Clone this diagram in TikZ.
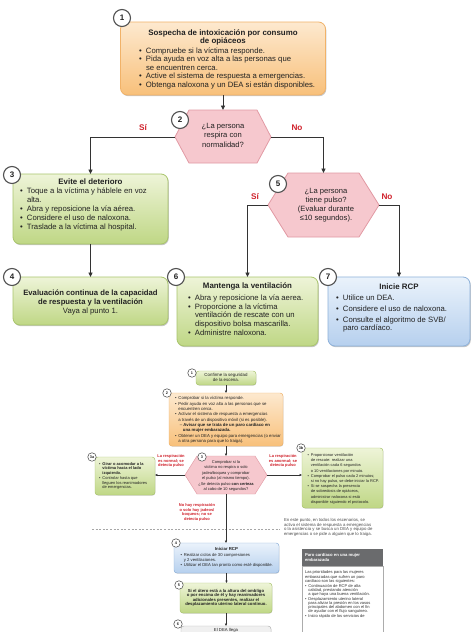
\documentclass[tikz,border=0pt]{standalone}
\usepackage{fontspec}
\setmainfont{Liberation Sans}
\usetikzlibrary{arrows.meta,shadows}
\definecolor{orTop}{HTML}{FDE9CF}
\definecolor{orBot}{HTML}{F8C07A}
\definecolor{orLine}{HTML}{F1B268}
\definecolor{grTop}{HTML}{EEF4D8}
\definecolor{grBot}{HTML}{BFD785}
\definecolor{grLine}{HTML}{A9C56C}
\definecolor{blTop}{HTML}{EAF2FB}
\definecolor{blBot}{HTML}{B6D0EE}
\definecolor{blLine}{HTML}{8DB1DA}
\definecolor{pkFill}{HTML}{F6C8CE}
\definecolor{pkLine}{HTML}{E29AA4}
\definecolor{redLab}{HTML}{D0202A}
\definecolor{conn}{HTML}{333333}
\definecolor{txtc}{HTML}{222222}
\definecolor{hdrGray}{HTML}{6A6B6D}
\definecolor{gyFill}{HTML}{F0F0F0}
\newcommand\fz[2]{\fontsize{#1}{#2}\selectfont}
\newcommand\bu{\makebox[7pt][l]{\textbullet}}
\newcommand\bi{\hspace*{7pt}}
\newcommand\bus{\makebox[3.4pt][l]{\textbullet}}
\newcommand\bis{\hspace*{3.4pt}}
\begin{document}
\begin{tikzpicture}[x=1pt,y=-1pt,
  every node/.style={inner sep=0pt, outer sep=0pt, text=txtc},
  bx/.style={rounded corners=7pt, line width=0.8pt,
    drop shadow={shadow xshift=0.8pt, shadow yshift=-1.2pt, opacity=0.22, fill=black}},
  obox/.style={bx, draw=orLine, top color=orTop, bottom color=orBot},
  gbox/.style={bx, draw=grLine, top color=grTop, bottom color=grBot},
  bbox/.style={bx, draw=blLine, top color=blTop, bottom color=blBot},
  sbx/.style={rounded corners=3pt, line width=0.45pt,
    drop shadow={shadow xshift=0.4pt, shadow yshift=-0.6pt, opacity=0.2, fill=black}},
  sobox/.style={sbx, draw=orLine, top color=orTop, bottom color=orBot},
  sgbox/.style={sbx, draw=grLine, top color=grTop, bottom color=grBot},
  sbbox/.style={sbx, draw=blLine, top color=blTop, bottom color=blBot},
  sgybox/.style={sbx, draw=gray!60, fill=gyFill},
  hex/.style={draw=pkLine, fill=pkFill, line width=0.8pt, line join=round},
  shex/.style={draw=pkLine, fill=pkFill, line width=0.45pt, line join=round},
  numc/.style={circle, draw=conn!85, line width=1.1pt, fill=white, minimum size=17pt,
    font=\fz{8}{8}\bfseries},
  snumc/.style={circle, draw=conn!85, line width=0.55pt, fill=white, minimum size=8.5pt,
    font=\fz{3.8}{4}\bfseries},
  lab/.style={text=redLab, font=\fz{8.2}{8.2}\bfseries},
  slab/.style={text=redLab, align=center, font=\fz{4}{4.8}\bfseries},
  arr/.style={draw=conn, line width=0.9pt, -{Triangle[length=4.5pt,width=4pt]}},
  barr/.style={draw=conn, line width=0.5pt, -{Triangle[length=2.4pt,width=2.2pt]}}
]
\useasboundingbox (0,0) rectangle (474,632);
\clip (0,0) rectangle (474,632);
\fill[white] (0,0) rectangle (474,632);

% ================= TOP CHART =================
\node[obox, minimum width=205pt, minimum height=73pt] (b1) at (223,58.5) {};
\node[anchor=north, align=center, font=\fz{7.9}{8.5}\bfseries] (t1) at (223,29.5)
  {\strut Sospecha de intoxicación por consumo\\de opiáceos};
\node[anchor=north west, align=left, font=\fz{7.7}{8.5}] (t1b) at (139,47.4)
  {\strut\bu Compruebe si la víctima responde.\\\bu Pida ayuda en voz alta a las personas que\\\bi se encuentren cerca.\\\bu Active el sistema de respuesta a emergencias.\\\bu Obtenga naloxona y un DEA si están disponibles.};

\coordinate (h2l) at (175,137);
\coordinate (h2tl) at (189,110);
\coordinate (h2tr) at (257,110);
\coordinate (h2r) at (271,137);
\coordinate (h2br) at (257,163);
\coordinate (h2bl) at (189,163);
\coordinate (h2t) at (223,110);
\draw[hex] (h2l) -- (h2tl) -- (h2tr) -- (h2r) -- (h2br) -- (h2bl) -- cycle;
\node[anchor=north, align=center, font=\fz{7.6}{9.5}] (t2) at (223,121.8)
  {\strut ¿La persona\\respira con\\normalidad?};

\node[lab] (si1) at (143,128) {Sí};
\node[lab] (no1) at (297,128) {No};

\node[gbox, minimum width=155pt, minimum height=70pt] (b3) at (90.5,209) {};
\node[anchor=base, font=\fz{7.9}{8}\bfseries] (t3) at (90.5,184.6) {Evite el deterioro};
\node[anchor=north west, align=left, font=\fz{7.7}{9}] (t3b) at (20,187.1)
  {\strut\bu Toque a la víctima y háblele en voz\\\bi alta.\\\bu Abra y reposicione la vía aérea.\\\bu Considere el uso de naloxona.\\\bu Traslade a la víctima al hospital.};

\coordinate (h5l) at (268,205);
\coordinate (h5tl) at (288,173);
\coordinate (h5tr) at (359,173);
\coordinate (h5r) at (379,205);
\coordinate (h5br) at (359,237);
\coordinate (h5bl) at (288,237);
\coordinate (h5t) at (323.5,173);
\draw[hex] (h5l) -- (h5tl) -- (h5tr) -- (h5r) -- (h5br) -- (h5bl) -- cycle;
\node[anchor=north, align=center, font=\fz{7.6}{9.1}] (t5) at (326,187.1)
  {\strut ¿La persona\\tiene pulso?\\(Evaluar durante\\≤10 segundos).};
\node[lab] (si2) at (255,197) {Sí};
\node[lab] (no2) at (387,197) {No};

\node[gbox, minimum width=155pt, minimum height=48pt] (b4) at (90.5,301) {};
\node[anchor=north, align=center, font=\fz{7.7}{9.2}] (t4) at (90.5,289)
  {\strut\textbf{Evaluación continua de la capacidad}\\\textbf{de respuesta y la ventilación}\\Vaya al punto 1.};

\node[gbox, minimum width=141pt, minimum height=69pt] (b6) at (247.5,311.5) {};
\node[anchor=base, font=\fz{7.9}{8}\bfseries] (t6) at (247.5,288.6) {Mantenga la ventilación};
\node[anchor=north west, align=left, font=\fz{7.7}{8.7}] (t6b) at (188,294.3)
  {\strut\bu Abra y reposicione la vía aerea.\\\bu Proporcione a la víctima\\\bi ventilación de rescate con un\\\bi dispositivo bolsa mascarilla.\\\bu Administre naloxona.};

\node[bbox, minimum width=142pt, minimum height=69pt] (b7) at (399,311.5) {};
\node[anchor=base, font=\fz{7.9}{8}\bfseries] (t7) at (399,289.6) {Inicie RCP};
\node[anchor=north west, align=left, font=\fz{7.7}{8.5}] (t7b) at (336,294.4)
  {\strut\bu Utilice un DEA.\\[2.5pt]\bu Considere el uso de naloxona.\\[2.5pt]\bu Consulte el algoritmo de SVB/\\\bi paro cardíaco.};

\draw[arr] (b1.south) -- (h2t);
\draw[arr] (h2l) -| (b3.north);
\draw[arr] (h2r) -| (h5t);
\draw[arr] (b3.south) -- (b4.north);
\draw[arr] (h5l) -| (b6.north);
\draw[arr] (h5r) -| (b7.north);

\node[numc] (n1) at (122,18) {1};
\node[numc] (n2) at (180,120) {2};
\node[numc] (n3) at (12,175) {3};
\node[numc] (n5) at (278,184) {5};
\node[numc] (n4) at (12,277) {4};
\node[numc] (n6) at (176,277) {6};
\node[numc] (n7) at (328,277) {7};

% ================= BOTTOM CHART =================
\node[sgbox, minimum width=60pt, minimum height=14pt] (bb1) at (226,378) {};
\node[align=center, font=\fz{4.4}{5}] (tb1) at (226,377.8) {Confirme la seguridad\\de la escena.};

\node[sobox, minimum width=114pt, minimum height=53pt] (bb2) at (226,419.5) {};
\node[anchor=west, align=left, font=\fz{4.3}{5.3}] (tb2) at (175,420)
  {\bus Comprobar si la víctima responde.\\\bus Pedir ayuda en voz alta a las personas que se\\\bis encuentren cerca.\\\bus Activar el sistema de respuesta a emergencias\\\bis a través de un dispositivo móvil (si es posible).\\\bis\hspace*{1.5pt}– \textbf{Avisar que se trata de un paro cardíaco en}\\\bis\hspace*{4.5pt}\textbf{una mujer embarazada.}\\\bus Obtener un DEA y equipo para emergencias (o enviar\\\bis a otra persona para que lo traiga).};

\coordinate (hb3l) at (185,475);
\coordinate (hb3tl) at (197,456);
\coordinate (hb3tr) at (255,456);
\coordinate (hb3r) at (267,475);
\coordinate (hb3br) at (255,494);
\coordinate (hb3bl) at (197,494);
\coordinate (hb3t) at (226,456);
\coordinate (hb3b) at (226,494);
\draw[shex] (hb3l) -- (hb3tl) -- (hb3tr) -- (hb3r) -- (hb3br) -- (hb3bl) -- cycle;
\node[align=center, font=\fz{4}{5.4}] (tb3) at (226,476)
  {Comprobar si la\\víctima no respira o solo\\jadea/boquea y comprobar\\el pulso (al mismo tiempo).\\¿Se detecta pulso \textbf{con certeza}\\al cabo de 10 segundos?};

\node[slab] (l3a) at (171,461) {La respiración\\es normal; se\\detecta pulso};
\node[slab] (l3b) at (283,461) {La respiración\\es anormal; se\\detecta pulso};
\node[slab] (l4) at (197,512.5) {No hay respiración\\o solo hay jadeos/\\boqueos; no se\\detecta pulso};

\node[sgbox, minimum width=60pt, minimum height=38pt] (bb3a) at (125,476) {};
\node[anchor=west, align=left, font=\fz{4}{4.6}] (tb3a) at (99,476)
  {\bus\textbf{Girar o acomodar a la}\\\bis\textbf{víctima hacia el lado}\\\bis\textbf{izquierdo.}\\[0.6pt]\bus Controlar hasta que\\\bis lleguen los reanimadores\\\bis de emergencias.};

\node[sgbox, minimum width=81pt, minimum height=60pt] (bb3b) at (342.5,478) {};
\node[anchor=west, align=left, font=\fz{3.95}{5.2}] (tb3b) at (307.5,478.8)
  {\bus Proporcionar ventilación\\\bis de rescate: realizar una\\\bis ventilación cada 6 segundos\\\bis o 10 ventilaciones por minuto.\\\bus Comprobar el pulso cada 2 minutos;\\\bis si no hay pulso, se debe iniciar la RCP.\\\bus Si se sospecha la presencia\\\bis de sobredosis de opiáceos,\\\bis administrar naloxona si está\\\bis disponible siguiendo el protocolo.};

\coordinate (dl) at (92,529);
\coordinate (dr) at (280,529);
\draw[gray!70, line width=0.6pt, dash pattern=on 2pt off 1.6pt] (dl) -- (dr);
\node[anchor=west, align=left, text=gray!60!black, font=\fz{4.3}{4.6}] (tnote) at (284,527.2)
  {En este punto, en todos los escenarios, se\\activa el sistema de respuesta a emergencias\\o la asistencia y se busca un DEA y equipo de\\emergencias o se pide a alguien que lo traiga.};

\node[sbbox, minimum width=105pt, minimum height=30pt] (bb4) at (226.5,558) {};
\node[anchor=base, font=\fz{4.3}{4.5}\bfseries] (tb4) at (226.5,550.4) {Iniciar RCP};
\node[anchor=west, align=left, font=\fz{4.2}{5}] (tb4b) at (180.5,560.5)
  {\bus Realizar ciclos de 30 compresiones\\\bis y 2 ventilaciones.\\[0.8pt]\bus Utilizar el DEA tan pronto como esté disponible.};

\node[sgbox, minimum width=92pt, minimum height=30pt] (bb5) at (226,598) {};
\node[align=center, font=\fz{4.25}{4.2}\bfseries] (tb5) at (226,597.8)
  {Si el útero está a la altura del ombligo\\o por encima de él y hay reanimadores\\adicionales presentes, realizar el\\desplazamiento uterino lateral continuo.};

\node[sgybox, minimum width=90pt, minimum height=16pt] (bb6) at (226,634) {};
\node[font=\fz{4.3}{4.5}] (tb6) at (226,630.5) {El DEA llega};

\draw[barr] (bb1.south) -- (bb2.north);
\draw[barr] (bb2.south) -- (hb3t);
\draw[barr] (hb3l) -- (hb3l -| bb3a.east);
\draw[barr] (hb3r) -- (hb3r -| bb3b.west);
\draw[barr] (hb3b) -- (hb3b |- bb4.north);
\draw[barr] (bb4.south) -- (bb4.south |- bb5.north);
\draw[barr] (bb5.south) -- (bb6.north);

\node[draw=gray!65, line width=0.5pt, fill=white, minimum width=81pt, minimum height=80pt, anchor=north west] (pc) at (302,566) {};
\node[fill=hdrGray, minimum width=81pt, minimum height=17pt, anchor=north west] (pch) at (302,549) {};
\node[anchor=west, align=left, text=white, font=\fz{4.2}{4.8}\bfseries] (tpch) at (305,557.5)
  {Paro cardíaco en una mujer\\embarazada};
\node[anchor=north west, align=left, text=gray!40!black, font=\fz{4.05}{4.1}] (tpc) at (305,570.2)
  {\strut Las prioridades para las mujeres\\embarazadas que sufren un paro\\cardíaco son las siguientes:\\[0.9pt]\bus Continuación de RCP de alta\\\bis calidad, prestando atención\\\bis a que haya una buena ventilación.\\[0.9pt]\bus Desplazamiento uterino lateral\\\bis para aliviar la presión en los vasos\\\bis principales del abdomen con el fin\\\bis de ayudar con el flujo sanguíneo.\\[0.9pt]\bus Inicio rápido de los servicios de};

\node[snumc] (m1) at (192,373) {1};
\node[snumc] (m2) at (167,393) {2};
\node[snumc] (m3) at (202,457) {3};
\node[snumc] (m3a) at (92,457) {3a};
\node[snumc] (m3b) at (301,448) {3b};
\node[snumc] (m4) at (176,543) {4};
\node[snumc] (m5) at (179,585) {5};
\node[snumc] (m6) at (178,624) {6};
\end{tikzpicture}
\end{document}
